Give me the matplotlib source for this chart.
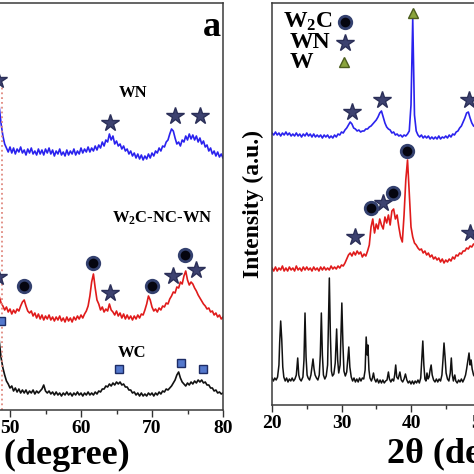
import numpy as np
import matplotlib.pyplot as plt
from matplotlib.ticker import FixedLocator

plt.rcParams['font.family'] = ['Liberation Serif', 'DejaVu Serif']
plt.rcParams['font.weight'] = 'bold'
plt.rcParams['mathtext.fontset'] = 'custom'
plt.rcParams['mathtext.rm'] = 'Liberation Serif:bold'
plt.rcParams['mathtext.default'] = 'rm'

# ---- panel a (left), scan from 48.25 deg, 0.25 deg step, stacked intensities (a.u.)
left_x0, left_dx = 48.25, 0.25
wn_left = [318, 302, 286, 274, 266, 262, 258, 263, 257, 262, 256, 261, 258, 263, 257, 260,
           255, 261, 257, 262, 256, 259, 255, 261, 256, 260, 255, 261, 257, 262, 256, 260,
           254, 259, 256, 261, 255, 258, 254, 260, 255, 259, 256, 261, 255, 259, 256, 262,
           257, 261, 258, 263, 258, 262, 259, 264, 260, 265, 262, 268, 264, 270, 268, 276,
           270, 274, 266, 269, 264, 266, 261, 264, 259, 261, 256, 259, 254, 257, 252, 256,
           251, 255, 250, 254, 251, 256, 252, 257, 254, 259, 257, 262, 259, 264, 263, 268,
           270, 276, 281, 279, 272, 266, 268, 264, 270, 268, 274, 270, 276, 271, 275, 270,
           274, 268, 272, 266, 269, 263, 265, 259, 262, 256, 259, 254, 258, 253, 256, 252]
w2c_left = [120, 113, 107, 104, 100, 103, 98, 101, 96, 100, 97, 101, 99, 104, 108, 110,
            104, 99, 97, 99, 94, 97, 92, 96, 91, 95, 90, 94, 91, 95, 90, 93,
            89, 93, 90, 94, 89, 92, 88, 93, 89, 92, 88, 93, 90, 94, 91, 95,
            92, 96, 99, 104, 114, 128, 136, 122, 110, 106, 100, 103, 98, 101, 99, 106,
            100, 98, 95, 99, 94, 97, 92, 96, 91, 95, 91, 94, 90, 94, 91, 95,
            92, 96, 95, 100, 106, 114, 110, 103, 99, 101, 98, 102, 100, 104, 103, 107,
            106, 111, 114, 118, 117, 123, 122, 128, 126, 134, 139, 130, 125, 128, 126, 122,
            119, 115, 112, 109, 106, 104, 101, 102, 98, 99, 95, 97, 93, 95, 91, 93]
wc_left = [88, 68, 52, 42, 35, 29, 26, 22, 24, 19, 22, 18, 21, 17, 20, 17,
           20, 16, 19, 17, 20, 16, 19, 17, 19, 21, 25, 19, 17, 19, 16, 18,
           15, 18, 15, 17, 14, 17, 15, 18, 15, 17, 14, 17, 15, 18, 15, 17,
           14, 17, 15, 18, 15, 17, 15, 18, 16, 19, 18, 21, 21, 24, 23, 26,
           24, 27, 25, 28, 26, 28, 25, 26, 23, 23, 20, 20, 17, 18, 15, 17,
           14, 17, 14, 16, 14, 17, 15, 17, 14, 17, 15, 18, 16, 19, 18, 21,
           20, 22, 24, 27, 30, 35, 38, 32, 28, 26, 24, 27, 25, 28, 26, 29,
           27, 30, 28, 30, 27, 28, 25, 25, 22, 22, 19, 20, 17, 18, 16, 17]
left_stars = [(48.3, 330), (64.1, 287), (73.2, 294), (76.8, 294),
              (48.3, 133), (64.1, 117), (73.0, 134), (76.2, 140)]
left_circles = [(52.0, 124), (61.7, 147), (70.0, 124), (74.7, 155)]
left_squares = [(48.8, 89), (65.4, 41), (74.1, 47), (77.2, 41)]
left_ticks = [50, 60, 70, 80]
left_minor = [55, 65, 75]
ref_line_x = 48.85

# ---- right panel, scan from 20 deg, 0.25 deg step
right_x0, right_dx = 20.0, 0.25
wn_right = [272, 270, 273, 270, 272, 269, 272, 270, 273, 270, 272, 269, 271, 269, 272, 269,
            271, 268, 271, 269, 272, 269, 271, 268, 271, 268, 270, 268, 270, 267, 270, 268,
            270, 267, 269, 267, 270, 268, 271, 270, 273, 272, 275, 277, 280, 283, 281, 277,
            276, 274, 275, 273, 274, 274, 276, 276, 278, 279, 281, 283, 285, 288, 292, 294,
            288, 282, 278, 276, 275, 272, 273, 270, 271, 269, 270, 268, 270, 269, 271, 274,
            300, 386, 290, 274, 270, 268, 270, 267, 269, 267, 269, 266, 268, 266, 268, 266,
            269, 266, 268, 267, 269, 267, 270, 268, 271, 270, 273, 274, 277, 279, 283, 287,
            292, 293, 287, 282, 279, 278, 276, 277]
w2c_right = [137, 134, 138, 134, 137, 135, 139, 134, 137, 134, 138, 135, 137, 134, 139, 135,
             137, 134, 138, 135, 138, 135, 137, 134, 138, 135, 137, 134, 138, 135, 138, 135,
             137, 135, 139, 136, 138, 136, 139, 137, 140, 139, 142, 146, 150, 152, 149, 153,
             150, 154, 151, 153, 148, 151, 149, 154, 160, 178, 186, 172, 181, 176, 186, 180,
             176, 188, 182, 190, 180, 194, 196, 186, 190, 178, 168, 163, 190, 225, 245, 212,
             178, 168, 162, 160, 157, 155, 156, 152, 154, 150, 152, 148, 150, 146, 148, 145,
             147, 143, 146, 142, 145, 143, 146, 144, 148, 146, 150, 149, 152, 151, 154, 154,
             157, 156, 159, 158, 161, 160, 162, 161]
ref_right = [(20.0, 27), (20.2, 24), (20.4, 27), (20.6, 25), (20.8, 28), (21.0, 40), (21.1, 62),
             (21.25, 84), (21.4, 66), (21.55, 38), (21.7, 28), (21.9, 24), (22.1, 27), (22.3, 23),
             (22.5, 26), (22.7, 24), (22.9, 27), (23.1, 24), (23.3, 26), (23.5, 30), (23.7, 47),
             (23.85, 30), (24.0, 26), (24.2, 24), (24.45, 28), (24.6, 45), (24.75, 92), (24.9, 48),
             (25.05, 30), (25.2, 27), (25.4, 25), (25.6, 30), (25.75, 38), (25.9, 46), (26.05, 36),
             (26.2, 30), (26.4, 27), (26.6, 25), (26.8, 30), (26.95, 50), (27.1, 92), (27.25, 50),
             (27.4, 30), (27.6, 26), (27.8, 29), (28.0, 40), (28.12, 80), (28.25, 127), (28.4, 70),
             (28.55, 34), (28.7, 29), (28.9, 31), (29.1, 42), (29.3, 76), (29.45, 45), (29.6, 32),
             (29.8, 40), (29.95, 75), (30.05, 102), (30.2, 62), (30.35, 34), (30.55, 29), (30.75, 33),
             (30.9, 45), (31.05, 58), (31.2, 38), (31.4, 28), (31.6, 24), (31.8, 27), (32.0, 23),
             (32.2, 26), (32.4, 23), (32.6, 27), (32.8, 24), (33.0, 27), (33.2, 26), (33.4, 35),
             (33.55, 68), (33.7, 50), (33.8, 60), (33.95, 35), (34.1, 27), (34.3, 24), (34.45, 27),
             (34.6, 32), (34.75, 26), (34.95, 23), (35.15, 26), (35.35, 22), (35.55, 25), (35.75, 22),
             (35.95, 25), (36.15, 22), (36.35, 24), (36.55, 25), (36.75, 33), (36.9, 26), (37.1, 23),
             (37.3, 26), (37.5, 24), (37.65, 30), (37.8, 40), (37.95, 28), (38.15, 26), (38.4, 33),
             (38.6, 25), (38.8, 23), (39.0, 26), (39.2, 31), (39.4, 25), (39.6, 22), (39.8, 24),
             (40.0, 21), (40.2, 24), (40.4, 21), (40.6, 24), (40.8, 22), (41.0, 25), (41.2, 22),
             (41.4, 27), (41.55, 45), (41.7, 64), (41.85, 40), (42.0, 26), (42.15, 24), (42.3, 32),
             (42.45, 26), (42.6, 28), (42.75, 35), (42.9, 40), (43.05, 30), (43.25, 25), (43.45, 23),
             (43.65, 26), (43.85, 23), (44.05, 26), (44.25, 24), (44.45, 30), (44.6, 45), (44.75, 62),
             (44.9, 48), (45.05, 32), (45.25, 26), (45.45, 24), (45.65, 32), (45.8, 47), (45.95, 30),
             (46.1, 24), (46.3, 30), (46.45, 24), (46.65, 22), (46.85, 25), (47.05, 23), (47.25, 26),
             (47.45, 23), (47.65, 26), (47.85, 30), (48.0, 36), (48.2, 45), (48.35, 52), (48.5, 40),
             (48.65, 45), (48.8, 36), (49.0, 30), (49.2, 28), (49.4, 26), (49.6, 27), (49.8, 24)]
right_stars = [(31.5, 293), (35.8, 305), (48.3, 305), (32.0, 168), (36.0, 202), (48.5, 172)]
right_circles = [(34.3, 197), (37.4, 212), (39.4, 254)]
right_triangles = [(40.24, 392)]
right_ticks = [20, 30, 40, 50]
right_minor = [25, 35, 45]

BLUE = '#2a22ee'
RED = '#e01b1b'
BLACK = '#111111'
star_kw = dict(marker='*', ms=13, mfc='#3d4270', mec='#2b2f58', ls='none', zorder=5)
circ_kw = dict(marker='o', ms=9, mfc='#05050f', mec='#34416f', mew=2.0, ls='none', zorder=5)
sq_kw = dict(marker='s', ms=5.5, mfc='#5478cc', mec='#1d2c66', mew=1.0, ls='none', zorder=5)
tri_kw = dict(marker='^', ms=7.5, mfc='#8aa43c', mec='#4d5e1e', mew=1.0, ls='none', zorder=5)


def scan(x0, dx, vals):
    return x0 + dx * np.arange(len(vals)), np.array(vals)


def style(ax, ytop, major, minor):
    ax.set_xlim(20, 80)
    ax.set_ylim(0, ytop)
    ax.xaxis.set_major_locator(FixedLocator(major))
    ax.xaxis.set_minor_locator(FixedLocator(minor))
    ax.tick_params(axis='x', which='major', length=5, width=1.0, direction='out',
                   labelsize=14, pad=2, color='#333333')
    ax.tick_params(axis='x', which='minor', length=3, width=1.0, direction='out', color='#333333')
    ax.tick_params(axis='y', left=False, labelleft=False)
    for s in ax.spines.values():
        s.set_linewidth(1.1)
        s.set_color('#3a3a3a')


fig = plt.figure(figsize=(4.74, 4.74), dpi=100)
axL = fig.add_axes([-203 / 474, 64 / 474, 426 / 474, 407 / 474])
axR = fig.add_axes([272 / 474, 69 / 474, 417 / 474, 402 / 474])
style(axL, 407, left_ticks, left_minor)
style(axR, 402, right_ticks, right_minor)

# left panel
for vals, c in [(wn_left, BLUE), (w2c_left, RED), (wc_left, BLACK)]:
    x, y = scan(left_x0, left_dx, vals)
    axL.plot(x, y, color=c, lw=1.2)
axL.axvline(ref_line_x, ymax=327 / 407, color='#e08a80', ls=':', lw=1.3)
axL.plot(*zip(*left_stars), **star_kw)
axL.plot(*zip(*left_circles), **circ_kw)
axL.plot(*zip(*left_squares), **sq_kw)
axL.text(67.3, 317, 'WN', ha='center', va='center', fontsize=12)
axL.text(71.4, 192, 'W$_2$C-NC-WN', ha='center', va='center', fontsize=12)
axL.text(67.2, 57, 'WC', ha='center', va='center', fontsize=12)
axL.text(78.5, 383, 'a', ha='center', va='center', fontsize=26)

# right panel
for vals, c in [(wn_right, BLUE), (w2c_right, RED)]:
    x, y = scan(right_x0, right_dx, vals)
    axR.plot(x, y, color=c, lw=1.2)
axR.plot(*zip(*ref_right), color=BLACK, lw=1.1)
axR.plot(*zip(*right_stars), **star_kw)
axR.plot(*zip(*right_circles), **circ_kw)
axR.plot(*zip(*right_triangles), **tri_kw)

# legend
axR.text(21.6, 383, 'W$_2$C', ha='left', va='center', fontsize=17)
axR.text(22.6, 362, 'WN', ha='left', va='center', fontsize=17)
axR.text(22.6, 342, 'W', ha='left', va='center', fontsize=17)
axR.plot([30.5], [383], **circ_kw)
axR.plot([30.5], [362], **star_kw)
axR.plot([30.4], [343], **tri_kw)

fig.text(130 / 474, 1 - 455 / 474, '2\u03b8 (degree)', ha='right', va='center', fontsize=26)
fig.text(387 / 474, 1 - 454 / 474, '2\u03b8 (degree)', ha='left', va='center', fontsize=26)
fig.text(253 / 474, 1 - 204 / 474, 'Intensity (a.u.)', rotation=90, ha='center', va='center',
         fontsize=17)

fig.savefig('out.png', dpi=100)
